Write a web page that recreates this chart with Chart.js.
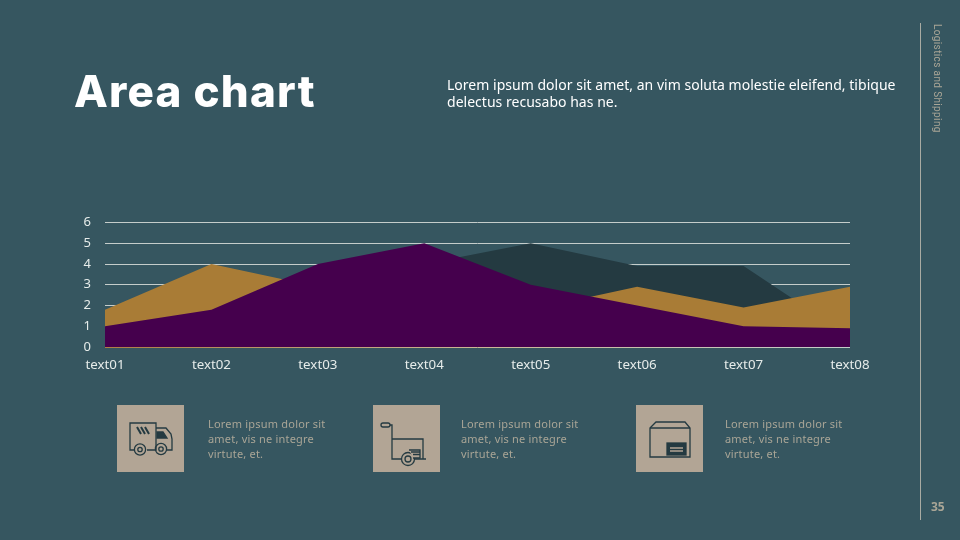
<!DOCTYPE html>
<html><head><meta charset="utf-8">
<script src="https://cdn.jsdelivr.net/npm/chart.js@4"></script>
<style>
html,body{margin:0;padding:0;width:960px;height:540px;overflow:hidden;background:#365660;font-family:"Noto Sans",sans-serif}
canvas{position:absolute;left:0;top:0}
.t{position:absolute;white-space:nowrap}
#title{left:74px;top:61px;font:800 44px/60px Inter,sans-serif;color:#fff;letter-spacing:1.2px}
#sub{left:447px;top:76px;font:14px/17px "Noto Sans",sans-serif;color:#fff;letter-spacing:.02px}
.cap{top:416px;font:11px/15px "Noto Sans",sans-serif;color:#a9a596;letter-spacing:.2px}
.tile{position:absolute;top:405px;width:67px;height:67px;background:#b2a595}
.tile svg{position:absolute;left:0;top:0;width:67px;height:67px;fill:none;stroke:#243a41;stroke-width:1.3}
#rule{position:absolute;left:920px;top:23px;width:1px;height:497px;background:#a9aba3}
#side{left:937px;top:24px;font:10px/12px "Roboto",sans-serif;color:#a9a596;writing-mode:vertical-rl;transform:translateX(-6px);letter-spacing:.37px}
#num{left:931px;top:500px;font:bold 12px/14px "Noto Sans",sans-serif;color:#a9a596}
</style></head><body>
<canvas id="c" width="960" height="540" style="width:960px;height:540px"></canvas>
<div class="t" id="title">Area chart</div>
<div class="t" id="sub">Lorem ipsum dolor sit amet, an vim soluta molestie eleifend, tibique<br>delectus recusabo has ne.</div>
<div class="tile" style="left:117px"><svg viewBox="0 0 67 67">
<path d="M13 39V18h26v27H30M13 39v6h4M39 23h10l5 6 1 5v11h-5M39 45h-1"/>
<circle cx="23" cy="44.5" r="5.6"/><circle cx="23" cy="44.5" r="2.2"/><circle cx="44" cy="44" r="5.6"/><circle cx="44" cy="44" r="2.2"/>
<path d="M20 22l4 7M24 22l4 7M28 22l4 7" stroke-width="2"/><path d="M40 27h6l4 6H40z" fill="#243a41"/></svg></div>
<div class="tile" style="left:373px"><svg viewBox="0 0 67 67">
<rect x="8" y="18" width="9" height="4" rx="2"/><path d="M17 20h2v34h10M42 54h11M19 34h31v20"/>
<circle cx="35" cy="54" r="6.5"/><circle cx="35" cy="54" r="3"/><path d="M36 45h11v8H40" fill="#b2a595"/><path d="M38 47h9M40 49.500h7"/></svg></div>
<div class="tile" style="left:636px"><svg viewBox="0 0 67 67">
<path d="M14 23l6-6h29l5 6v29H14z"/><path d="M14 23h40"/><rect x="31" y="38" width="19" height="12" fill="#243a41"/><path d="M34 43h13M34 46h13" stroke="#b2a595"/></svg></div>
<div class="t cap" style="left:208px">Lorem ipsum dolor sit<br>amet, vis ne integre<br>virtute, et.</div>
<div class="t cap" style="left:461px">Lorem ipsum dolor sit<br>amet, vis ne integre<br>virtute, et.</div>
<div class="t cap" style="left:725px">Lorem ipsum dolor sit<br>amet, vis ne integre<br>virtute, et.</div>
<div id="rule"></div>
<div class="t" id="side">Logistics and Shipping</div>
<div class="t" id="num">35</div>
<script>
const categories = ["text01","text02","text03","text04","text05","text06","text07","text08"];
const darkSeries = [1, 2, 3, 4, 5, 3.9, 3.9, 0.5];
const amberSeries = [1.8, 4, 2.9, 2, 1.8, 2.9, 1.9, 2.9];
const purpleSeries = [1, 1.8, 4, 5, 3, 2, 1, 0.9];
const yTicks = [0,1,2,3,4,5,6];
const area = (data,color,order)=>({data,order,fill:'origin',backgroundColor:color,borderWidth:0,pointRadius:0,tension:0});
const ctx2d = document.getElementById('c').getContext('2d');
const baseLine = ctx2d.createLinearGradient(105,0,850,0);
baseLine.addColorStop(0,'#b07f45');baseLine.addColorStop(.5,'#cdb796');baseLine.addColorStop(1,'#c5cdcb');
new Chart(ctx2d,{
  type:'line',
  data:{labels:categories,datasets:[area(purpleSeries,'#45004d',1),area(amberSeries,'#a97c36',2),area(darkSeries,'#243a41',3)]},
  options:{
    responsive:false,animation:false,devicePixelRatio:1,
    layout:{padding:{left:65,right:110,top:222.5,bottom:163}},
    plugins:{legend:{display:false},tooltip:{enabled:false}},
    scales:{
      x:{type:'category',offset:false,afterFit:s=>{s.height=30},
        grid:{display:false},border:{display:false},
        ticks:{color:'#e6ecea',font:{family:'"Noto Sans"',size:13.3},padding:2,maxRotation:0,autoSkip:false}},
      y:{min:0,max:6,afterFit:s=>{s.width=40},afterBuildTicks:s=>{s.ticks=yTicks.map(value=>({value}))},
        grid:{color:c=>c.tick&&c.tick.value===0?baseLine:'#c5cdcb',lineWidth:1,drawTicks:false},border:{display:false},
        ticks:{color:'#e6ecea',font:{family:'"Noto Sans"',size:13},padding:14}}
    }
  }
});
</script>
</body></html>
